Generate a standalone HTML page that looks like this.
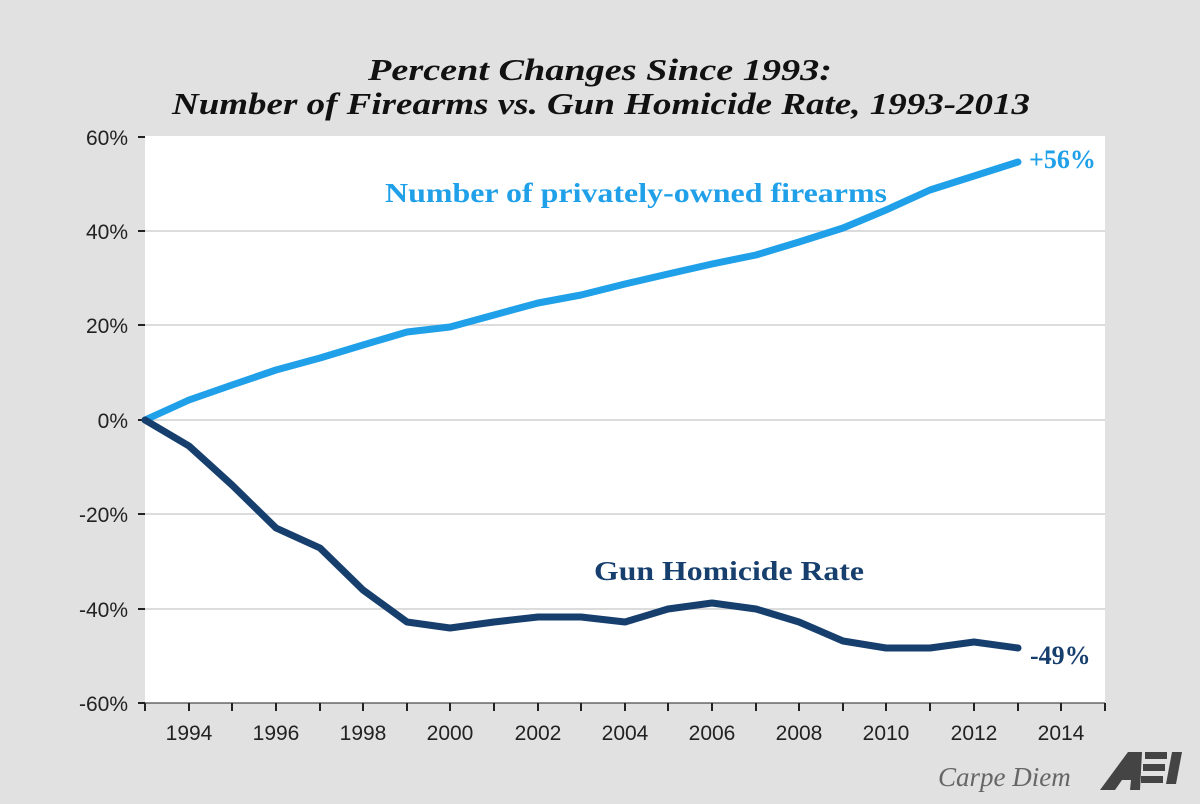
<!DOCTYPE html>
<html><head><meta charset="utf-8"><style>body{margin:0;background:#e1e1e1}svg{display:block}</style></head><body>
<svg width="1200" height="804" xmlns="http://www.w3.org/2000/svg" font-family="Liberation Sans, sans-serif">
<rect width="1200" height="804" fill="#e1e1e1"/>
<rect x="145" y="136" width="960" height="567" fill="#fff"/>
<g stroke="#d0d0d0" stroke-width="1.5">
<line x1="145" y1="231" x2="1105" y2="231"/><line x1="145" y1="325" x2="1105" y2="325"/><line x1="145" y1="420" x2="1105" y2="420"/><line x1="145" y1="514" x2="1105" y2="514"/><line x1="145" y1="609" x2="1105" y2="609"/>
</g>
<g stroke="#222" stroke-width="2">
<line x1="138" y1="137" x2="145" y2="137"/><line x1="138" y1="231" x2="145" y2="231"/><line x1="138" y1="325" x2="145" y2="325"/><line x1="138" y1="420" x2="145" y2="420"/><line x1="138" y1="514" x2="145" y2="514"/><line x1="138" y1="609" x2="145" y2="609"/><line x1="138" y1="703" x2="145" y2="703"/>
<line x1="145" y1="703" x2="1105" y2="703" stroke-width="1"/>
</g>
<g stroke="#222" stroke-width="2">
<path d="M145 703v8M189 703v8M232 703v8M276 703v8M320 703v8M363 703v8M407 703v8M450 703v8M494 703v8M538 703v8M581 703v8M625 703v8M668 703v8M712 703v8M756 703v8M799 703v8M843 703v8M886 703v8M930 703v8M974 703v8M1018 703v8M1061 703v8M1105 703v8"/>
</g>
<g font-size="21" fill="#222" text-anchor="end">
<text x="128" y="145">60%</text><text x="128" y="239">40%</text><text x="128" y="333">20%</text><text x="128" y="428">0%</text><text x="128" y="522">-20%</text><text x="128" y="617">-40%</text><text x="128" y="711">-60%</text>
</g>
<g font-size="21" fill="#222" text-anchor="middle">
<text x="189" y="740">1994</text><text x="276" y="740">1996</text><text x="363" y="740">1998</text><text x="450" y="740">2000</text><text x="538" y="740">2002</text><text x="625" y="740">2004</text><text x="712" y="740">2006</text><text x="799" y="740">2008</text><text x="886" y="740">2010</text><text x="974" y="740">2012</text><text x="1061" y="740">2014</text>
</g>
<g font-family="Liberation Serif, serif" font-weight="bold" font-style="italic" font-size="31" fill="#111" text-anchor="middle">
<text x="600" y="80" textLength="464" lengthAdjust="spacingAndGlyphs">Percent Changes Since 1993:</text>
<text x="601" y="114" textLength="858" lengthAdjust="spacingAndGlyphs">Number of Firearms vs. Gun Homicide Rate, 1993-2013</text>
</g>
<polyline fill="none" stroke="#1fa0e8" stroke-width="7" stroke-linecap="round" stroke-linejoin="round" points="145,420 189,400 232,385 276,370 320,358 363,345 407,332 450,327 494,315 538,303 581,295 625,284 668,274 712,264 756,255 799,242 843,228 886,210 930,190 974,176 1018,162"/>
<polyline fill="none" stroke="#173f6e" stroke-width="7" stroke-linecap="round" stroke-linejoin="round" points="145,420 189,446 232,485 276,528 320,548 363,590 407,622 450,628 494,622 538,617 581,617 625,622 668,609 712,603 756,609 799,622 843,641 886,648 930,648 974,642 1018,648"/>
<g font-family="Liberation Serif, serif" font-weight="bold">
<text x="385" y="202" font-size="27" fill="#1fa0e8" textLength="502" lengthAdjust="spacingAndGlyphs">Number of privately-owned firearms</text>
<text x="1029" y="168" font-size="26" fill="#1fa0e8">+56%</text>
<text x="594" y="580" font-size="27" fill="#173f6e" textLength="270" lengthAdjust="spacingAndGlyphs">Gun Homicide Rate</text>
<text x="1030" y="664" font-size="26" fill="#173f6e">-49%</text>
</g>
<text x="938" y="786" font-family="Liberation Serif, serif" font-style="italic" font-size="27" fill="#666">Carpe Diem</text>
<g fill="#444">
<path d="M1100 790 L1128 752 L1142 752 L1140 790 L1130 790 L1131 780 L1122 780 L1115 790 Z"/>
<rect x="1145" y="752" width="22" height="7"/><rect x="1143" y="764" width="22" height="7"/><rect x="1141" y="776" width="22" height="7"/>
<path d="M1172 752 L1182 752 L1176 784 L1166 784 Z"/>
</g>
</svg>
</body></html>
